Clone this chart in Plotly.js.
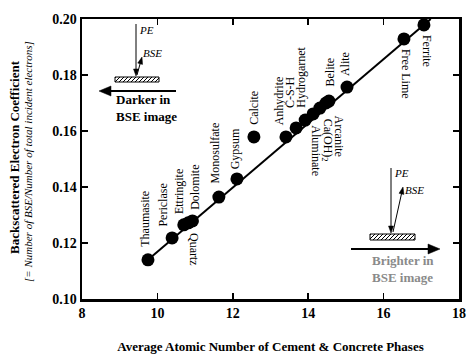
<!DOCTYPE html>
<html><head><meta charset="utf-8">
<script src="https://cdn.plot.ly/plotly-3.0.1.min.js"></script>
<style>body{margin:0;background:#fff}#chart{width:474px;height:361px}</style>
</head><body><div id="chart"></div>
<script>
// ---- data ----
const phases = ["Thaumasite","Periclase","Ettringite","Quartz","Dolomite","Monosulfate","Gypsum","Calcite",
  "Anhydrite","C-S-H","Hydrogarnet","Aluminate","Ca(OH)<sub>2</sub>","Arcanite","Belite","Alite","Free Lime","Ferrite"];
const atomicNumber = [9.75,10.39,10.70,10.82,10.93,11.63,12.11,12.56,13.41,13.68,13.92,14.13,14.31,14.47,14.55,15.03,16.54,17.07];
const bseCoef = [0.1140,0.1218,0.1265,0.1272,0.1279,0.1364,0.1429,0.1579,0.1579,0.1611,0.1639,0.1661,0.1682,0.1700,0.1707,0.1757,0.1929,0.1979];
const fitX = [9.72, 17.25];
const fitY = [0.1137, 0.2000];
const xTicks = [8,10,12,14,16,18];
const yTicks = [0.10,0.12,0.14,0.16,0.18,0.20];

// ---- label placement (style) ----
const labelDir = [1,1,1,-1,1,1,1,1,1,1,1,-1,-1,-1,1,1,-1,-1];
const labelDX  = [-3,-9,-4,5,3,-4,-2,0,-7,-6,-5,2,8,14,1,-2,2,3];
const labelDY  = [11,9,9,-8,9,12,8,10,10,18,10,-9,-9,-11,13,9,-8,-8];

const SERIF = '"Liberation Serif","Times New Roman",serif';
const M = {l:82, r:15, t:19, b:62};
const PW = 474 - M.l - M.r, PH = 361 - M.t - M.b;
const X = px => 8 + (px - M.l) / PW * 10;
const Y = py => 0.20 - (py - M.t) / PH * 0.10;

function hatch(x0, x1, y0, y1) {
  const h = y1 - y0; let p = `M${X(x0)},${Y(y0)} L${X(x1)},${Y(y0)} L${X(x1)},${Y(y1)} L${X(x0)},${Y(y1)} Z`;
  for (let a = x0 - h + 1; a < x1; a += 4) {
    let sx = a, sy = y1, ex = a + h, ey = y0;
    if (sx < x0) { sy = y1 - (x0 - sx); sx = x0; }
    if (ex > x1) { ey = y0 + (ex - x1); ex = x1; }
    p += ` M${X(sx)},${Y(sy)} L${X(ex)},${Y(ey)}`;
  }
  return p;
}
// arrow from (fx,fy) to (tx,ty) in pixels, drawn as line + filled head
function arrow(fx, fy, tx, ty, w, hl, hw) {
  const dx = tx - fx, dy = ty - fy, L = Math.hypot(dx, dy), ux = dx / L, uy = dy / L;
  const bx = tx - ux * hl, by = ty - uy * hl, px = -uy, py = ux;
  return [
    {type: 'line', xref: 'x', yref: 'y', x0: X(fx), y0: Y(fy), x1: X(bx + ux), y1: Y(by + uy), line: {color: '#000', width: w}},
    {type: 'path', xref: 'x', yref: 'y', fillcolor: '#000', line: {color: '#000', width: 0.5},
     path: `M${X(tx)},${Y(ty)} L${X(bx + px * hw)},${Y(by + py * hw)} L${X(bx - px * hw)},${Y(by - py * hw)} Z`}
  ];
}

const traces = [
  {x: fitX, y: fitY, mode: 'lines', line: {color: '#000', width: 2}, hoverinfo: 'skip'},
  {x: atomicNumber, y: bseCoef, mode: 'markers', marker: {color: '#000', size: 13}, text: phases}
];

const ann = phases.map((t, i) => ({
  x: atomicNumber[i], y: bseCoef[i], text: t, showarrow: false,
  textangle: labelDir[i] > 0 ? -90 : 90,
  xanchor: 'center', yanchor: labelDir[i] > 0 ? 'bottom' : 'top',
  xshift: labelDX[i], yshift: labelDY[i],
  font: {family: SERIF, size: 12, color: '#000'}
}));

function txt(px, py, t, opts) {
  return Object.assign({x: X(px), y: Y(py), text: t, showarrow: false, xanchor: 'left', yanchor: 'middle',
    font: {family: SERIF, size: 12, color: '#000'}}, opts || {});
}

ann.push(
  txt(137, 30, '<i>PE</i>', {font:{family:SERIF,size:11,color:'#000'}}),
  txt(141, 53, '<i>BSE</i>', {font:{family:SERIF,size:11,color:'#000'}}),
  txt(114, 108, '<b>Darker in<br>BSE image</b>', {align: 'left', font:{family:SERIF,size:13,color:'#000'}}),
  txt(392, 173, '<i>PE</i>', {font:{family:SERIF,size:11,color:'#000'}}),
  txt(403, 190, '<i>BSE</i>', {font:{family:SERIF,size:11,color:'#000'}}),
  txt(370, 269, '<b>Brighter in<br>BSE image</b>', {align: 'left', font:{family:SERIF,size:13,color:'#8a8a8a'}}),
  {xref: 'paper', yref: 'paper', x: (14 - M.l) / PW, y: 0.5 + 2/PH, text: '<b>Backscattered Electron Coefficient</b>',
   textangle: -90, showarrow: false, xanchor: 'center', yanchor: 'middle', font: {family: SERIF, size: 13, color: '#000'}},
  {xref: 'paper', yref: 'paper', x: (28 - M.l) / PW, y: 0.5 - 3/PH, text: '<i>[= Number of BSE/Number of total incident electrons]</i>',
   textangle: -90, showarrow: false, xanchor: 'center', yanchor: 'middle', font: {family: SERIF, size: 11, color: '#000'}}
);

const shapes = [
  {type: 'path', xref: 'x', yref: 'y', path: hatch(115, 159, 77, 82), line: {color: '#000', width: 1}},
  {type: 'path', xref: 'x', yref: 'y', path: hatch(370, 415, 234, 240), line: {color: '#000', width: 1}},
  ...arrow(136, 24, 136, 76, 1, 7, 2.5),
  ...arrow(137, 75, 142, 57, 1, 7, 2.5),
  ...arrow(176, 91, 99, 91, 2.2, 12, 5),
  ...arrow(391, 168, 391, 233, 1, 7, 2.5),
  ...arrow(393, 232, 403, 187, 1, 7, 2.5),
  ...arrow(351, 249, 440, 249, 2.2, 12, 5)
];

const axisCommon = {
  showgrid: false, zeroline: false, showline: true, linewidth: 2.5, linecolor: '#000',
  mirror: 'ticks', ticks: 'inside', ticklen: 6, tickwidth: 1.5, tickcolor: '#000',
  tickfont: {family: SERIF, size: 14, color: '#000', weight: 'bold'}
};

const layout = {
  width: 474, height: 361, margin: M, showlegend: false,
  paper_bgcolor: '#fff', plot_bgcolor: '#fff',
  xaxis: Object.assign({}, axisCommon, {range: [8, 18], tickvals: xTicks, ticktext: xTicks.map(String),
    title: {text: '<b>Average Atomic Number of Cement &amp; Concrete Phases</b>', font: {family: SERIF, size: 13, color: '#000'}, standoff: 22}}),
  yaxis: Object.assign({}, axisCommon, {range: [0.10, 0.20], tickvals: yTicks, ticktext: yTicks.map(v => v.toFixed(2))}),
  annotations: ann, shapes: shapes
};

Plotly.newPlot('chart', traces, layout, {displayModeBar: false, staticPlot: true});
</script>
</body></html>
